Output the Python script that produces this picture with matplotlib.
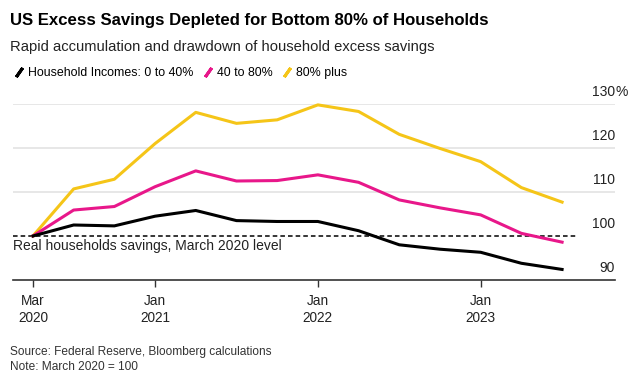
import numpy as np
import matplotlib.pyplot as plt
from matplotlib.lines import Line2D
import matplotlib.transforms as mtransforms

plt.rcParams['font.family'] = ['Liberation Sans', 'DejaVu Sans']

# quarterly points, Mar 2020 .. mid 2023 (index = quarter number)
quarters = np.arange(14)
low_0_40 = [100, 102.5, 102.3, 104.5, 105.8, 103.5, 103.3, 103.3, 101.2, 98.0, 97.0, 96.3, 93.8, 92.4]
mid_40_80 = [100, 105.9, 106.7, 111.2, 114.8, 112.5, 112.6, 113.9, 112.2, 108.2, 106.4, 104.8, 100.6, 98.6]
top_80 = [100, 110.7, 112.9, 121.0, 128.1, 125.6, 126.4, 129.8, 128.3, 123.1, 119.9, 116.9, 111.0, 107.7]

tick_pos = [0, 3, 7, 11]
tick_labels = ['Mar\n2020', 'Jan\n2021', 'Jan\n2022', 'Jan\n2023']
y_vals = [90, 100, 110, 120, 130]
y_labels = ['90', '100', '110', '120', '130']

black = '#000000'
pink = '#e8178a'
yellow = '#f5c518'

fig = plt.figure(figsize=(6.4, 3.82), dpi=100)
ax = fig.add_axes([13 / 640, 1 - 280 / 382, (615 - 13) / 640, (280 - 104) / 382])
ax.set_xlim(-0.49, 14.3)
ax.set_ylim(90, 130)

for v in y_vals[1:]:
    if v != 100:
        ax.axhline(v, color='#e3e3e3', lw=1.2, zorder=0)
ax.plot([-0.49, 13.4], [100, 100], color='black', lw=1.1, ls=(0, (3, 2)), zorder=1)

ax.plot(quarters, top_80, color=yellow, lw=2.2, zorder=3, clip_on=False)
ax.plot(quarters, mid_40_80, color=pink, lw=2.2, zorder=3, clip_on=False)
ax.plot(quarters, low_0_40, color=black, lw=2.2, zorder=4, clip_on=False)

ax.text(-0.49, 99.3, 'Real households savings, March 2020 level', fontsize=10,
        ha='left', va='top', color='#222222')

trans = mtransforms.blended_transform_factory(ax.transAxes, ax.transData)
for v, lab in zip(y_vals, y_labels):
    ax.text(1.0, v + 1.2, lab, transform=trans, ha='right', va='bottom', fontsize=10, color='#222222')
ax.text(1.0, y_vals[-1] + 1.2, '%', transform=trans, ha='left', va='bottom', fontsize=10, color='#222222')

for s in ['top', 'right', 'left']:
    ax.spines[s].set_visible(False)
ax.spines['bottom'].set_color('#333333')
ax.spines['bottom'].set_linewidth(1.2)
ax.set_yticks([])
ax.set_xticks(tick_pos)
ax.set_xticklabels(tick_labels, fontsize=9.8, color='#222222', linespacing=1.25)
ax.tick_params(axis='x', length=5, width=1, color='#333333', pad=5)

fig.text(10 / 640, 1 - 21 / 382, 'US Excess Savings Depleted for Bottom 80% of Households',
         fontsize=12.1, fontweight='bold', va='center', ha='left')
fig.text(10 / 640, 1 - 47 / 382, 'Rapid accumulation and drawdown of household excess savings',
         fontsize=10.6, va='center', ha='left', color='#222222')

handles = [Line2D([], [], color=c, marker=(2, 2, -35), linestyle='none', markersize=8, markeredgewidth=2.2)
           for c in [black, pink, yellow]]
fig.legend(handles, ['Household Incomes: 0 to 40%', '40 to 80%', '80% plus'], ncol=3,
           loc='center left', bbox_to_anchor=(3 / 640, 1 - 73 / 382), frameon=False,
           fontsize=8.9, handlelength=0.8, handletextpad=0.3, columnspacing=0.8)

fig.text(10 / 640, 1 - 352 / 382, 'Source: Federal Reserve, Bloomberg calculations', fontsize=8.6,
         va='center', ha='left', color='#333333')
fig.text(10 / 640, 1 - 367 / 382, 'Note: March 2020 = 100', fontsize=8.6,
         va='center', ha='left', color='#333333')

fig.savefig('out.png', dpi=100)
